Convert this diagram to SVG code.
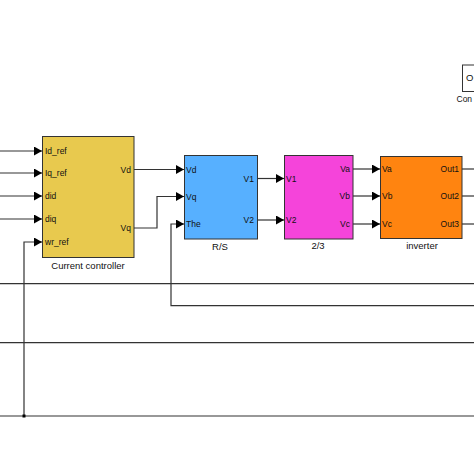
<svg xmlns="http://www.w3.org/2000/svg" width="474" height="474" viewBox="0 0 474 474">
<defs>
<marker id="ah" markerWidth="9" markerHeight="9" refX="8" refY="4.5" orient="auto" markerUnits="userSpaceOnUse">
<path d="M0,0 L8,4.5 L0,9 Z" fill="#000"/>
</marker>
<style>
.w{fill:none;stroke:#333;stroke-width:1.2}
.a{marker-end:url(#ah)}
.b{stroke:#333;stroke-width:1}
.p{font-family:"Liberation Sans",Arial,sans-serif;font-size:8.5px;fill:#111}
.r{text-anchor:end}
.l{font-family:"Liberation Sans",Arial,sans-serif;font-size:9.5px;fill:#111;text-anchor:middle}
</style>
</defs>
<rect width="474" height="474" fill="#fff"/>
<g id="connectors">
<path class="w a" d="M0,151 H42"/>
<path class="w a" d="M0,173 H42"/>
<path class="w a" d="M0,196 H42"/>
<path class="w a" d="M0,219 H42"/>
<path class="w a" d="M24,416 V242 H42"/>
<path class="w a" d="M134,169.5 H184"/>
<path class="w a" d="M134,228 H157 V196.5 H184"/>
<path class="w a" d="M474,305.7 H171 V224 H184"/>
<path class="w a" d="M258,178.5 H284"/>
<path class="w a" d="M258,220 H284"/>
<path class="w a" d="M353,169 H380"/>
<path class="w a" d="M353,196 H380"/>
<path class="w a" d="M353,224 H380"/>
<path class="w" d="M462,169 H474"/>
<path class="w" d="M462,196 H474"/>
<path class="w" d="M462,224 H474"/>
<path class="w" d="M0,283.7 H474"/>
<path class="w" d="M0,342.7 H474"/>
<path class="w" d="M0,416 H474"/>
<rect x="22.5" y="414.5" width="3" height="3" fill="#000"/>
</g>
<g id="current-controller">
<rect class="b" x="42.5" y="136.5" width="91.5" height="121" fill="#e8c94e"/>
<text class="p" x="45" y="154">Id_ref</text>
<text class="p" x="45" y="176">Iq_ref</text>
<text class="p" x="45" y="199">did</text>
<text class="p" x="45" y="222">diq</text>
<text class="p" x="45" y="245">wr_ref</text>
<text class="p r" x="131" y="172.5">Vd</text>
<text class="p r" x="131" y="231">Vq</text>
<text class="l" x="88" y="269">Current controller</text>
</g>
<g id="rs">
<rect class="b" x="184.5" y="155.5" width="73" height="83.5" fill="#57b0ff"/>
<text class="p" x="186" y="172.5">Vd</text>
<text class="p" x="186" y="199.5">Vq</text>
<text class="p" x="186" y="227">The</text>
<text class="p r" x="254" y="181.5">V1</text>
<text class="p r" x="254" y="223">V2</text>
<text class="l" x="220" y="249.5">R/S</text>
</g>
<g id="two-three">
<rect class="b" x="284.5" y="155.5" width="68.5" height="83.5" fill="#f544da"/>
<text class="p" x="286" y="181.5">V1</text>
<text class="p" x="286" y="222.5">V2</text>
<text class="p r" x="350" y="172">Va</text>
<text class="p r" x="350" y="199">Vb</text>
<text class="p r" x="350" y="227">Vc</text>
<text class="l" x="318" y="248.5">2/3</text>
</g>
<g id="inverter">
<rect class="b" x="380.5" y="156.5" width="81.5" height="82" fill="#ff8410"/>
<text class="p" x="382" y="171.5">Va</text>
<text class="p" x="382" y="199">Vb</text>
<text class="p" x="382" y="227">Vc</text>
<text class="p r" x="459" y="172">Out1</text>
<text class="p r" x="459" y="199">Out2</text>
<text class="p r" x="459" y="227">Out3</text>
<text class="l" x="422" y="249">inverter</text>
</g>
<g id="con">
<rect class="b" x="462.5" y="65" width="20" height="26.5" fill="#fff"/>
<text class="p" x="466" y="81" style="font-size:9.5px">O</text>
<text class="p" x="456.5" y="101.5">Con</text>
</g>
</svg>
